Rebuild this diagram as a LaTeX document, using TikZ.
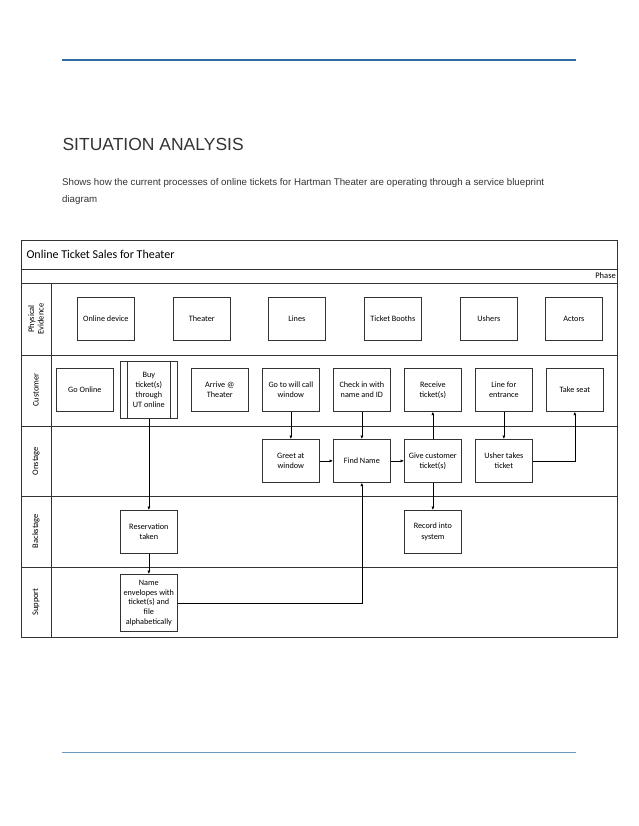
\documentclass[tikz,border=0pt]{standalone}
\usepackage{fontspec}
\setmainfont{Carlito}
\newfontfamily\hel{Liberation Sans}
\usetikzlibrary{arrows.meta}
\definecolor{barblue}{HTML}{2E6DA4}
\definecolor{txtgray}{HTML}{333333}
\begin{document}
\begin{tikzpicture}[x=1pt,y=-1pt,
  bx/.style={draw=black!80,line width=0.7pt,minimum width=57pt,minimum height=43pt,inner sep=1pt,align=center,font=\fontsize{8.2}{10.2}\selectfont,anchor=north west},
  ar/.style={-{Latex[length=3.5pt,width=3pt]},line width=0.6pt},
  lane/.style={rotate=90,font=\fontsize{8.5}{9.5}\selectfont,align=center}]
\useasboundingbox (0,0) rectangle (638,826);
\draw[barblue,line width=2.5pt] (62,60) -- (576,60);
\draw[barblue!70,line width=0.6pt] (62,752) -- (576,752);
\node[anchor=west,font=\hel\fontsize{17.5}{20}\selectfont,text=txtgray] (title) at (59,144) {SITUATION ANALYSIS};
\node[anchor=north west,font=\hel\fontsize{9.7}{17}\selectfont,text=txtgray,align=left,inner sep=0] (desc) at (62,178) {Shows how the current processes of online tickets for Hartman Theater are operating through a service blueprint\\diagram};
% frame
\draw[line width=0.9pt,black!80] (21,240) rectangle (617,637);
\draw[line width=0.9pt,black!80] (21,269) -- (617,269);
\draw[line width=0.9pt,black!80] (21,283) -- (617,283);
\draw[line width=0.9pt,black!80] (21,355) -- (617,355);
\draw[line width=0.9pt,black!80] (21,426) -- (617,426);
\draw[line width=0.5pt,black!80] (21,496) -- (617,496);
\draw[line width=0.9pt,black!80] (21,567) -- (617,567);
\draw[line width=0.7pt,black!80] (51,283) -- (51,637);
\node[anchor=west,font=\fontsize{12}{14}\selectfont] (ttl) at (23,254) {Online Ticket Sales for Theater};
\node[anchor=east,font=\fontsize{8.5}{9}\selectfont,inner sep=1pt] (phase) at (617,276) {Phase};
\node[lane] (l1) at (36,319) {Physical\\Evidence};
\node[lane] (l2) at (36,390) {Customer};
\node[lane] (l3) at (36,461) {Onstage};
\node[lane] (l4) at (36,531) {Backstage};
\node[lane] (l5) at (36,602) {Support};
% physical
\node[bx] (p1) at (77,297) {Online device};
\node[bx] (p2) at (173,297) {Theater};
\node[bx] (p3) at (268,297) {Lines};
\node[bx] (p4) at (364,297) {Ticket Booths};
\node[bx] (p5) at (460,297) {Ushers};
\node[bx] (p6) at (545,297) {Actors};
% customer
\node[bx] (c1) at (56,368) {Go Online};
\node[bx,minimum height=57pt] (c2) at (120,361) {Buy\\ticket(s)\\through\\UT online};
\draw[line width=0.7pt,black!80] (127,361) -- (127,418) (170,361) -- (170,418);
\node[bx] (c3) at (191,368) {Arrive @\\Theater};
\node[bx] (c4) at (262,368) {Go to will call\\window};
\node[bx] (c5) at (333,368) {Check in with\\name and ID};
\node[bx] (c6) at (404,368) {Receive\\ticket(s)};
\node[bx] (c7) at (475,368) {Line for\\entrance};
\node[bx] (c8) at (546,368) {Take seat};
% onstage
\node[bx] (o1) at (262,439) {Greet at\\window};
\node[bx] (o2) at (333,439) {Find Name};
\node[bx] (o3) at (404,439) {Give customer\\ticket(s)};
\node[bx] (o4) at (475,439) {Usher takes\\ticket};
% backstage
\node[bx] (b1) at (120,510) {Reservation\\taken};
\node[bx] (b2) at (404,510) {Record into\\system};
% support
\node[bx,minimum height=57pt,font=\fontsize{8.2}{9.6}\selectfont] (s1) at (120,574) {Name\\envelopes with\\ticket(s) and\\file\\alphabetically};
% arrows
\draw[ar] (c2.south) -- (b1.north);
\draw[ar] (b1.south) -- (s1.north);
\draw[ar] (s1.east) -| (o2.south);
\draw[ar] (c4.south) -- (o1.north);
\draw[ar] (c5.south) -- (o2.north);
\draw[ar] (o1.east) -- (o2.west);
\draw[ar] (o2.east) -- (o3.west);
\draw[ar] (o3.north) -- (c6.south);
\draw[ar] (o3.south) -- (b2.north);
\draw[ar] (c7.south) -- (o4.north);
\draw[ar] (o4.east) -| (c8.south);
\end{tikzpicture}
\end{document}
